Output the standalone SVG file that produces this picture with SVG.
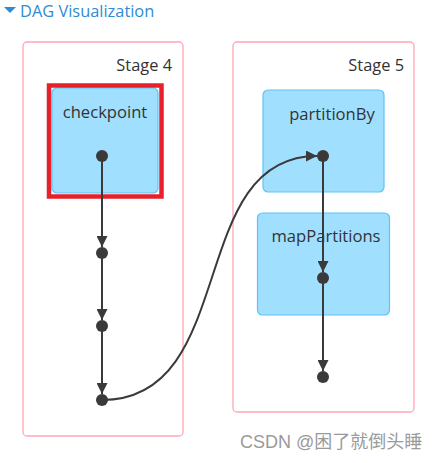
<svg xmlns="http://www.w3.org/2000/svg" width="444" height="463" viewBox="0 0 444 463">
<style>
text{font-family:"Open Sans","Noto Sans","Liberation Sans",sans-serif;}
.title{font-size:16.4px;fill:#2f8bd2;}
.stage{fill:#fff;stroke:#ffa7b6;stroke-width:1.3;}
.slabel{font-size:16.4px;fill:#333;text-anchor:end;}
.node{fill:#a0dffe;stroke:#5cc3f7;stroke-width:1.2;}
.nlabel{font-size:16.6px;fill:#333;text-anchor:middle;}
.dot{fill:#3a3a3a;}
.edge{fill:none;stroke:#3a3a3a;stroke-width:2;}
.wm{font-family:"Liberation Sans","Noto Sans CJK SC",sans-serif;font-size:18px;fill:#9a9a9a;}
</style>
<defs>
<marker id="arr" viewBox="0 0 10 10" refX="10" refY="5" markerWidth="11" markerHeight="11" markerUnits="userSpaceOnUse" orient="auto">
<path d="M0,0 L10,5 L0,10 Z" fill="#3a3a3a"/>
</marker>
</defs>
<g id="header">
<path d="M4,7 L16,7 L10,13 Z" fill="#2f8bd2"/>
<text class="title" x="20" y="16.5">DAG Visualization</text>
</g>
<g id="stage4">
<rect class="stage" x="23" y="42" width="160" height="394" rx="4"/>
<text class="slabel" x="172" y="71">Stage 4</text>
</g>
<g id="stage5">
<rect class="stage" x="233" y="42" width="181" height="370" rx="4"/>
<text class="slabel" x="404" y="71">Stage 5</text>
</g>
<g id="checkpoint">
<rect class="node" x="52" y="88" width="106" height="105" rx="5"/>
<rect x="49" y="85.5" width="112.5" height="111" fill="none" stroke="#e8202a" stroke-width="4.5"/>
<text class="nlabel" x="105" y="118">checkpoint</text>
</g>
<g id="partitionBy">
<rect class="node" x="263" y="90" width="121" height="102" rx="5"/>
<text class="nlabel" x="332" y="120">partitionBy</text>
</g>
<g id="mapPartitions">
<rect class="node" x="257.5" y="213" width="132" height="102" rx="5"/>
<text class="nlabel" x="326" y="242">mapPartitions</text>
</g>
<g id="connectors">
<path class="edge" d="M102,156 L102,247" marker-end="url(#arr)"/>
<path class="edge" d="M102,253 L102,320" marker-end="url(#arr)"/>
<path class="edge" d="M102,326 L102,394" marker-end="url(#arr)"/>
<path class="edge" d="M102,400 C240,400 185,156 317,156" stroke-width="1.8" marker-end="url(#arr)"/>
<path class="edge" d="M323,156 L323,272" marker-end="url(#arr)"/>
<path class="edge" d="M323,278 L323,371" marker-end="url(#arr)"/>
</g>
<g id="dots">
<circle class="dot" cx="102" cy="156" r="6"/>
<circle class="dot" cx="102" cy="253" r="6"/>
<circle class="dot" cx="102" cy="326" r="6"/>
<circle class="dot" cx="102" cy="400" r="6"/>
<circle class="dot" cx="323" cy="156" r="6"/>
<circle class="dot" cx="323" cy="278" r="6"/>
<circle class="dot" cx="323" cy="377" r="6"/>
</g>
<g id="watermark">
<text class="wm" x="240" y="448">CSDN @困了就倒头睡</text>
</g>
</svg>
